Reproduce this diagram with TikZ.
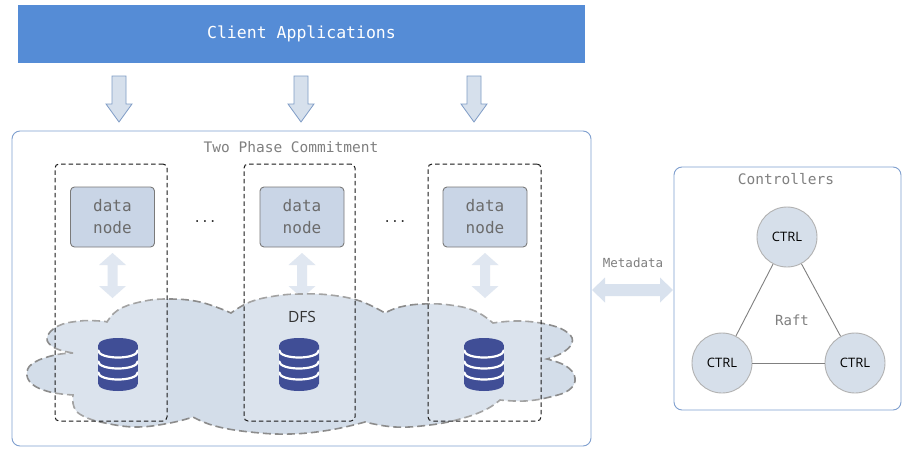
\documentclass[tikz,border=0pt]{standalone}
\usepackage{fontspec}
\newfontfamily\monof{DejaVu Sans Mono}
\newfontfamily\sansf{Open Sans}
\definecolor{clientblue}{HTML}{558CD6}
\definecolor{arrowfill}{HTML}{D6E0EC}
\definecolor{arrowedge}{HTML}{7F9CC6}
\definecolor{frameblue}{HTML}{7F9FCF}
\definecolor{nodefill}{HTML}{BCCBE0}
\definecolor{cloudfill}{HTML}{D3DDE9}
\definecolor{dbblue}{HTML}{404E96}
\definecolor{ctrlfill}{HTML}{D6DFEA}
\definecolor{softarrow}{HTML}{D9E2EE}
\definecolor{labelgray}{HTML}{7F7F7F}
\tikzset{
  clientbox/.style={fill=clientblue, draw=none, minimum width=567pt, minimum height=58pt, inner sep=0pt, text=white, font=\monof\fontsize{16.5}{20}\selectfont},
  framebox/.style={draw=frameblue, line width=0.9pt, rounded corners=8pt, inner sep=0pt},
  frametitle/.style={text=labelgray, font=\monof\fontsize{14.5}{17}\selectfont, inner sep=0pt},
  colbox/.style={draw=black!90, dash pattern=on 4.5pt off 3pt, line width=1pt, rounded corners=4pt, minimum height=257pt, inner sep=0pt},
  datanode/.style={draw=black!65, fill=nodefill, line width=0.9pt, rounded corners=4pt, minimum width=84pt, minimum height=60pt, inner sep=0pt, align=center, text=black!72, font=\monof\fontsize{16}{22}\selectfont},
  blkarrow/.style={fill=arrowfill, draw=arrowedge, line width=0.8pt},
  softblk/.style={fill=softarrow, draw=none},
  cloudshape/.style={fill=cloudfill, draw=black!45, line width=1.6pt, dash pattern=on 8pt off 4pt},
  ctrl/.style={circle, fill=ctrlfill, draw=black!30, line width=0.9pt, minimum size=60pt, inner sep=0pt, font=\sansf\fontsize{13}{15}\selectfont},
  raftline/.style={draw=black!50, line width=0.9pt},
  dots/.style={text=black!80, font=\monof\fontsize{13}{15}\selectfont, inner sep=0pt},
}
\newcommand{\downblk}[1]{%
  \begin{scope}[shift={(#1,0)}]
    \filldraw[blkarrow] (-7,76) -- (7,76) -- (7,104) -- (13,104) -- (0,122) -- (-13,104) -- (-7,104) -- cycle;
  \end{scope}}
\newcommand{\vertdbl}[1]{%
  \begin{scope}[shift={(#1,0)}]
    \fill[softblk] (0,253) -- (13.5,265) -- (5,265) -- (5,286) -- (13.5,286) -- (0,298) -- (-13.5,286) -- (-5,286) -- (-5,265) -- (-13.5,265) -- cycle;
  \end{scope}}
\newcommand{\dbicon}[1]{%
  \begin{scope}[shift={(#1,0)}]
    \begin{scope}
      \clip (-20,345.5) -- (-20,383.5) .. controls (-20,393.5) and (20,393.5) .. (20,383.5) -- (20,345.5) .. controls (20,335.5) and (-20,335.5) .. (-20,345.5) -- cycle;
      \fill[dbblue] (-21,330) rectangle (21,400);
      \foreach \c in {350,361,372}{
        \draw[white, line width=2.2pt] (-20,\c) .. controls (-20,\c+10) and (20,\c+10) .. (20,\c);
      }
    \end{scope}
  \end{scope}}
\begin{document}
\begin{tikzpicture}[x=1pt,y=-1pt]
\useasboundingbox (0,0) rectangle (911,450);
\fill[white] (0,0) rectangle (911,450);

% client applications
\node[clientbox] (client) at (301.5,34) {Client Applications};
\downblk{119}
\downblk{301}
\downblk{474}

% two phase commitment frame
\node[framebox, minimum width=579pt, minimum height=315pt] (tpc) at (301.5,288.5) {};
\node[frametitle] (tpctitle) at (291,147) {Two Phase Commitment};

% data nodes
\node[datanode] (dn1) at (112.5,217) {data\\node};
\node[datanode] (dn2) at (302,217) {data\\node};
\node[datanode] (dn3) at (485,217) {data\\node};
\node[dots] (dots1) at (205,222) {...};
\node[dots] (dots2) at (395,222) {...};
\vertdbl{112.5}
\vertdbl{302}
\vertdbl{485}

% DFS cloud
\draw[cloudshape]
  plot[smooth, tension=0.7] coordinates {(73,353) (55,348) (47,338) (58,326) (80,321) (100,321) (107,322)}
  -- plot[smooth, tension=0.7] coordinates {(107,322) (118,310) (140,302) (167,299) (200,302) (231,313)}
  -- plot[smooth, tension=0.7] coordinates {(231,313) (250,302) (275,296) (300,294) (330,295) (360,301) (385,313)}
  -- plot[smooth, tension=0.7] coordinates {(385,313) (400,307) (423,304) (450,305) (475,311) (493,323)}
  -- plot[smooth, tension=0.7] coordinates {(493,323) (520,321) (550,325) (568,333) (572,343) (562,353) (547,359)}
  -- plot[smooth, tension=0.7] coordinates {(547,359) (566,366) (575,378) (569,390) (550,397) (525,401) (500,400)}
  -- plot[smooth, tension=0.7] coordinates {(500,400) (485,410) (460,419) (430,425) (395,427) (365,422)}
  -- plot[smooth, tension=0.7] coordinates {(365,422) (330,430) (290,434) (250,432) (215,426) (193,417)}
  -- plot[smooth, tension=0.7] coordinates {(193,417) (170,423) (137,427) (105,423) (83,416) (74,407) (73,395)}
  -- plot[smooth, tension=0.7] coordinates {(73,395) (50,392) (32,384) (27,372) (35,362) (55,355) (73,353)}
  -- cycle;

% dashed columns
\node[colbox, minimum width=112pt, fill=white, fill opacity=0.2] (col1) at (111,292.5) {};
\node[colbox, minimum width=111pt, fill=white, fill opacity=0.2] (col2) at (299.5,292.5) {};
\node[colbox, minimum width=113pt, fill=white, fill opacity=0.2] (col3) at (484.5,292.5) {};

\node[text=black!80, font=\sansf\fontsize{15.5}{18}\selectfont, inner sep=0pt] (dfs) at (302,317) {DFS};
\dbicon{118}
\dbicon{299}
\dbicon{484}

% controllers
\node[framebox, minimum width=227pt, minimum height=243pt] (ctrlbox) at (787.5,288.5) {};
\node[frametitle] (ctrltitle) at (786,179) {Controllers};
\node[ctrl] (ct) at (787,237) {CTRL};
\node[ctrl] (cl) at (722,363) {CTRL};
\node[ctrl] (cr) at (855,363) {CTRL};
\draw[raftline] (ct) -- (cl);
\draw[raftline] (ct) -- (cr);
\draw[raftline] (cl) -- (cr);
\node[text=labelgray, font=\monof\fontsize{14}{16}\selectfont, inner sep=0pt] (raft) at (792,320) {Raft};

% metadata arrow
\fill[softblk] (592,290) -- (605,277.5) -- (605,284) -- (660,284) -- (660,277.5) -- (673,290) -- (660,302.5) -- (660,296) -- (605,296) -- (605,302.5) -- cycle;
\node[text=labelgray, font=\monof\fontsize{12.5}{15}\selectfont, inner sep=0pt] (meta) at (633,263) {Metadata};
\end{tikzpicture}
\end{document}
